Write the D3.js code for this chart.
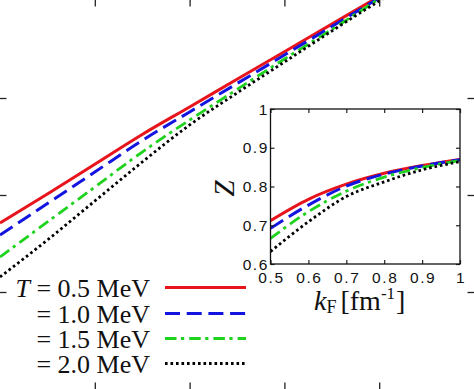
<!DOCTYPE html>
<html>
<head>
<meta charset="utf-8">
<script src="https://cdn.jsdelivr.net/npm/d3@7"></script>
<style>
  body { margin: 0; background: #fff; }
  svg { display: block; }
</style>
</head>
<body>
<div id="vis"></div>
<script>
const FRAME_WIDTH = 474;
const FRAME_HEIGHT = 389;
const SERIF = "'Liberation Serif', 'Times New Roman', Times, 'DejaVu Serif', serif";
const SANS = "'Liberation Sans', Arial, Helvetica, sans-serif";

// main panel (cropped), arbitrary units
const MAIN_X = [0, 0.5, 1, 1.5, 2, 2.5, 3, 3.5, 4, 4.5];
const MAIN_T05 = [1.711, 2.010, 2.317, 2.624, 2.908, 3.193, 3.477, 3.762, 4.047, 4.33];
const MAIN_T10 = [1.588, 1.912, 2.237, 2.562, 2.856, 3.149, 3.443, 3.737, 4.031, 4.32];
const MAIN_T15 = [1.361, 1.722, 2.082, 2.443, 2.773, 3.088, 3.402, 3.706, 4.021, 4.31];
const MAIN_T20 = [1.155, 1.536, 1.938, 2.340, 2.722, 3.052, 3.371, 3.691, 4.000, 4.29];
const MAIN_XTICKS = [1, 2, 3, 4];
const MAIN_YTICKS = [1, 2, 3];

// inset: Z vs kF
const KF = [0.5, 0.6, 0.7, 0.8, 0.9, 1.0];
const Z_T05 = [0.712, 0.767, 0.806, 0.834, 0.854, 0.870];
const Z_T10 = [0.692, 0.752, 0.801, 0.832, 0.853, 0.869];
const Z_T15 = [0.666, 0.735, 0.788, 0.824, 0.849, 0.867];
const Z_T20 = [0.632, 0.709, 0.774, 0.812, 0.843, 0.864];
const KF_TICKS = [0.5, 0.6, 0.7, 0.8, 0.9, 1];
const Z_TICKS = [0.6, 0.7, 0.8, 0.9, 1];

const LEGEND = ["0.5", "1.0", "1.5", "2.0"];

const STYLES = [
  {color: "#e8141c", dash: null, width: 3},
  {color: "#1414e0", dash: "15,6.7", width: 3},
  {color: "#1ed21e", dash: "11.5,4.5,3.2,5", width: 2.8},
  {color: "#000000", dash: "2.6,2.9", width: 2.8}
];

const svg = d3.select("#vis")
  .append("svg")
    .attr("width", FRAME_WIDTH)
    .attr("height", FRAME_HEIGHT);

// ---------- main panel ----------
const X_MAIN = d3.scaleLinear().domain([0, 5]).range([0, 474]);
const Y_MAIN = d3.scaleLinear().domain([0, 4]).range([389, 1]);

svg.append("clipPath").attr("id", "clipMain")
  .append("rect").attr("x", 0).attr("y", 0).attr("width", FRAME_WIDTH).attr("height", FRAME_HEIGHT);

const mainSeries = [MAIN_T05, MAIN_T10, MAIN_T15, MAIN_T20];
const lineMain = d3.line()
  .x((d) => X_MAIN(d[0]))
  .y((d) => Y_MAIN(d[1]))
  .curve(d3.curveMonotoneX);

svg.append("g").attr("clip-path", "url(#clipMain)")
  .selectAll("path")
  .data(mainSeries)
  .enter()
  .append("path")
    .attr("d", (s) => lineMain(MAIN_X.map((x, i) => [x, s[i]])))
    .attr("fill", "none")
    .attr("stroke", (s, i) => STYLES[i].color)
    .attr("stroke-width", (s, i) => STYLES[i].width)
    .attr("stroke-dasharray", (s, i) => STYLES[i].dash);

// inward ticks on all four (cropped) sides
const TICK = 7;
svg.append("g")
  .attr("transform", "translate(0," + (FRAME_HEIGHT + 0.5) + ")")
  .call(d3.axisTop(X_MAIN).tickValues(MAIN_XTICKS).tickSize(TICK).tickFormat(""))
  .call((g) => g.select(".domain").remove());
svg.append("g")
  .attr("transform", "translate(0,-0.5)")
  .call(d3.axisBottom(X_MAIN).tickValues(MAIN_XTICKS).tickSize(TICK).tickFormat(""))
  .call((g) => g.select(".domain").remove());
svg.append("g")
  .attr("transform", "translate(-0.5,0)")
  .call(d3.axisRight(Y_MAIN).tickValues(MAIN_YTICKS).tickSize(TICK).tickFormat(""))
  .call((g) => g.select(".domain").remove());
svg.append("g")
  .attr("transform", "translate(" + (FRAME_WIDTH + 0.5) + ",0)")
  .call(d3.axisLeft(Y_MAIN).tickValues(MAIN_YTICKS).tickSize(TICK).tickFormat(""))
  .call((g) => g.select(".domain").remove());
svg.selectAll(".tick line").attr("stroke", "#222").attr("stroke-width", 1.3);

// ---------- legend ----------
const legend = svg.append("g");
const rowY = [297, 323, 348, 373];
LEGEND.forEach((t, i) => {
  const txt = legend.append("text")
    .attr("font-family", SERIF)
    .attr("fill", "#111")
    .attr("x", 150)
    .attr("y", rowY[i])
    .attr("text-anchor", "end")
    .attr("font-size", "26px");
  if (i === 0) {
    txt.append("tspan").attr("font-style", "italic").text("T");
    txt.append("tspan").text(" = " + t + " MeV");
  } else {
    txt.text("= " + t + " MeV");
  }
  legend.append("line")
    .attr("x1", 165).attr("x2", 246)
    .attr("y1", rowY[i] - 9.5).attr("y2", rowY[i] - 9.5)
    .attr("stroke", STYLES[i].color)
    .attr("stroke-width", STYLES[i].width)
    .attr("stroke-dasharray", STYLES[i].dash);
});

// ---------- inset ----------
const X_IN = d3.scaleLinear().domain([0.5, 1]).range([270.5, 460]);
const Y_IN = d3.scaleLinear().domain([0.6, 1]).range([264, 109]);

const inset = svg.append("g");
inset.append("rect")
  .attr("x", X_IN(0.5)).attr("y", Y_IN(1))
  .attr("width", X_IN(1) - X_IN(0.5)).attr("height", Y_IN(0.6) - Y_IN(1))
  .attr("fill", "#fff");

inset.append("clipPath").attr("id", "clipIn")
  .append("rect")
    .attr("x", X_IN(0.5)).attr("y", Y_IN(1))
    .attr("width", X_IN(1) - X_IN(0.5)).attr("height", Y_IN(0.6) - Y_IN(1));

const insetSeries = [Z_T05, Z_T10, Z_T15, Z_T20];
const lineIn = d3.line()
  .x((d) => X_IN(d[0]))
  .y((d) => Y_IN(d[1]))
  .curve(d3.curveMonotoneX);

inset.append("g").attr("clip-path", "url(#clipIn)")
  .selectAll("path")
  .data(insetSeries)
  .enter()
  .append("path")
    .attr("d", (s) => lineIn(KF.map((k, i) => [k, s[i]])))
    .attr("fill", "none")
    .attr("stroke", (s, i) => STYLES[i].color)
    .attr("stroke-width", (s, i) => STYLES[i].width)
    .attr("stroke-dasharray", (s, i) => STYLES[i].dash);

const IT = 4;
inset.append("g")
  .attr("transform", "translate(0," + Y_IN(0.6) + ")")
  .call(d3.axisTop(X_IN).tickValues(KF_TICKS).tickSize(IT).tickFormat(""))
  .call((g) => g.select(".domain").remove());
inset.append("g")
  .attr("transform", "translate(0," + Y_IN(1) + ")")
  .call(d3.axisBottom(X_IN).tickValues(KF_TICKS).tickSize(IT).tickFormat(""))
  .call((g) => g.select(".domain").remove());
inset.append("g")
  .attr("transform", "translate(" + X_IN(0.5) + ",0)")
  .call(d3.axisRight(Y_IN).tickValues(Z_TICKS).tickSize(IT).tickFormat(""))
  .call((g) => g.select(".domain").remove());
inset.append("g")
  .attr("transform", "translate(" + X_IN(1) + ",0)")
  .call(d3.axisLeft(Y_IN).tickValues(Z_TICKS).tickSize(IT).tickFormat(""))
  .call((g) => g.select(".domain").remove());
inset.selectAll(".tick line").attr("stroke", "#222").attr("stroke-width", 1.2);

inset.append("rect")
  .attr("x", X_IN(0.5)).attr("y", Y_IN(1))
  .attr("width", X_IN(1) - X_IN(0.5)).attr("height", Y_IN(0.6) - Y_IN(1))
  .attr("fill", "none").attr("stroke", "#111").attr("stroke-width", 1.3);

inset.selectAll(".xlbl")
  .data(KF_TICKS)
  .enter()
  .append("text")
    .attr("font-family", SANS)
    .attr("font-size", "15.5px")
    .attr("letter-spacing", "1.6px")
    .attr("fill", "#111")
    .attr("x", (d) => X_IN(d) + 1)
    .attr("y", 282.5)
    .attr("text-anchor", "middle")
    .text((d) => d3.format("")(d));

inset.selectAll(".ylbl")
  .data(Z_TICKS)
  .enter()
  .append("text")
    .attr("font-family", SANS)
    .attr("font-size", "15.5px")
    .attr("letter-spacing", "1.6px")
    .attr("fill", "#111")
    .attr("x", 269)
    .attr("y", (d) => Y_IN(d) + 5.5)
    .attr("text-anchor", "end")
    .text((d) => d3.format("")(d));

// axis titles
svg.append("text")
  .attr("font-family", SERIF)
  .attr("fill", "#111")
  .attr("font-size", "29px")
  .attr("font-style", "italic")
  .attr("text-anchor", "middle")
  .attr("transform", "translate(234,188.5) rotate(-90)")
  .text("Z");

const kf = svg.append("text")
  .attr("font-family", SERIF)
  .attr("fill", "#111")
  .attr("x", 314)
  .attr("y", 310)
  .attr("font-size", "28px");
kf.append("tspan").attr("font-style", "italic").text("k");
kf.append("tspan").attr("font-size", "18px").attr("dy", 3).text("F");
kf.append("tspan").attr("dy", -3).attr("dx", 4).text("[fm");
kf.append("tspan").attr("font-size", "17px").attr("dy", -11).text("-1");
kf.append("tspan").attr("dy", 11).attr("dx", 1).text("]");
</script>
</body>
</html>
